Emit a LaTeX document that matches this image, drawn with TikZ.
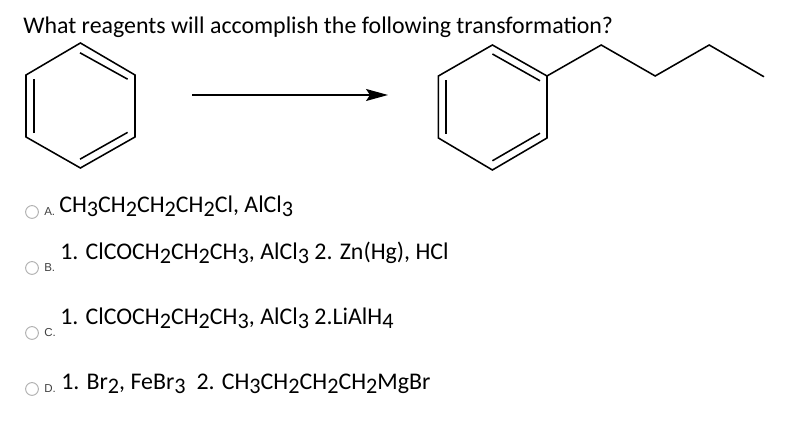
\documentclass[tikz,border=0pt]{standalone}
\usepackage{fontspec}
\setmainfont{Carlito}
\newfontfamily\labelfont{Liberation Sans}
\usetikzlibrary{arrows.meta}
\newcommand{\low}[1]{\raisebox{-0.3ex}{\fontsize{15.8}{18}\selectfont #1}}
\tikzset{
  bond/.style={line width=1.1pt, line join=miter},
  radio/.style={circle, draw=gray!60, fill=white, line width=0.7pt, minimum size=0.32cm, inner sep=0pt},
  letter/.style={anchor=west, inner sep=0pt, font=\labelfont\fontsize{8.2}{10}\selectfont, text=black!75},
  answer/.style={anchor=base west, inner sep=0pt, font=\fontsize{17}{20}\selectfont}
}
\begin{document}
\begin{tikzpicture}
\useasboundingbox (0,0) rectangle (19.925,10.95);

\node (Q) at (0.575,10.1) [anchor=base west, inner sep=0pt, font=\fontsize{17}{20}\selectfont]{What reagents will accomplish the following transformation?};

% left ring
\coordinate (L-1) at (2.01,9.875);
\coordinate (L-2) at (3.375,9.075);
\coordinate (L-3) at (3.375,7.525);
\coordinate (L-4) at (2.01,6.75);
\coordinate (L-5) at (0.65,7.525);
\coordinate (L-6) at (0.65,9.075);
\draw [bond] (L-1) -- (L-2) -- (L-3) -- (L-4) -- (L-5) -- (L-6) -- cycle;
\draw [bond] (2.0,9.63) -- (3.19,8.97);
\draw [bond] (3.19,7.64) -- (2.0,6.97);
\draw [bond] (0.85,7.62) -- (0.85,8.98);

% arrow
\coordinate (start) at (4.8,8.575);
\coordinate (end) at (9.7,8.575);
\draw [-{Stealth[length=0.55cm,width=0.3cm,inset=0.1cm]}, line width=1.1pt] (start) -- (end);

% right ring
\coordinate (R-1) at (12.31,9.825);
\coordinate (R-2) at (13.675,9.05);
\coordinate (R-3) at (13.675,7.5);
\coordinate (R-4) at (12.31,6.7);
\coordinate (R-5) at (10.96,7.5);
\coordinate (R-6) at (10.96,9.05);
\draw [bond] (R-1) -- (R-2) -- (R-3) -- (R-4) -- (R-5) -- (R-6) -- cycle;
\draw [bond] (12.31,9.6) -- (13.5,8.93);
\draw [bond] (13.5,7.62) -- (12.31,6.93);
\draw [bond] (11.15,7.6) -- (11.15,8.95);

% chain
\coordinate (C-1) at (15.03,9.825);
\coordinate (C-2) at (16.38,9.05);
\coordinate (C-3) at (17.73,9.825);
\coordinate (C-4) at (19.1,9.03);
\draw [bond] (R-2) -- (C-1) -- (C-2) -- (C-3) -- (C-4);

% choices
\node (A-0) at (0.8,5.65) [radio]{};
\node (A-1) at (1.1,5.65) [letter]{A.};
\node (A-2) at (1.475,5.625) [answer]{CH\low{3}CH\low{2}CH\low{2}CH\low{2}Cl, AlCl\low{3}};

\node (B-0) at (0.8,4.25) [radio]{};
\node (B-1) at (1.1,4.25) [letter]{B.};
\node (B-2) at (1.5,4.45) [answer]{1. ClCOCH\low{2}CH\low{2}CH\low{3}, AlCl\low{3} 2. Zn(Hg), HCl};

\node (C-0) at (0.8,2.625) [radio]{};
\node (C-1) at (1.1,2.625) [letter]{C.};
\node (C-2) at (1.5,2.825) [answer]{1. ClCOCH\low{2}CH\low{2}CH\low{3}, AlCl\low{3} 2.LiAlH\low{4}};

\node (D-0) at (0.8,1.225) [radio]{};
\node (D-1) at (1.1,1.225) [letter]{D.};
\node (D-2) at (1.525,1.2) [answer]{1. Br\low{2}, FeBr\low{3}\ \ 2. CH\low{3}CH\low{2}CH\low{2}CH\low{2}MgBr};

\end{tikzpicture}
\end{document}
